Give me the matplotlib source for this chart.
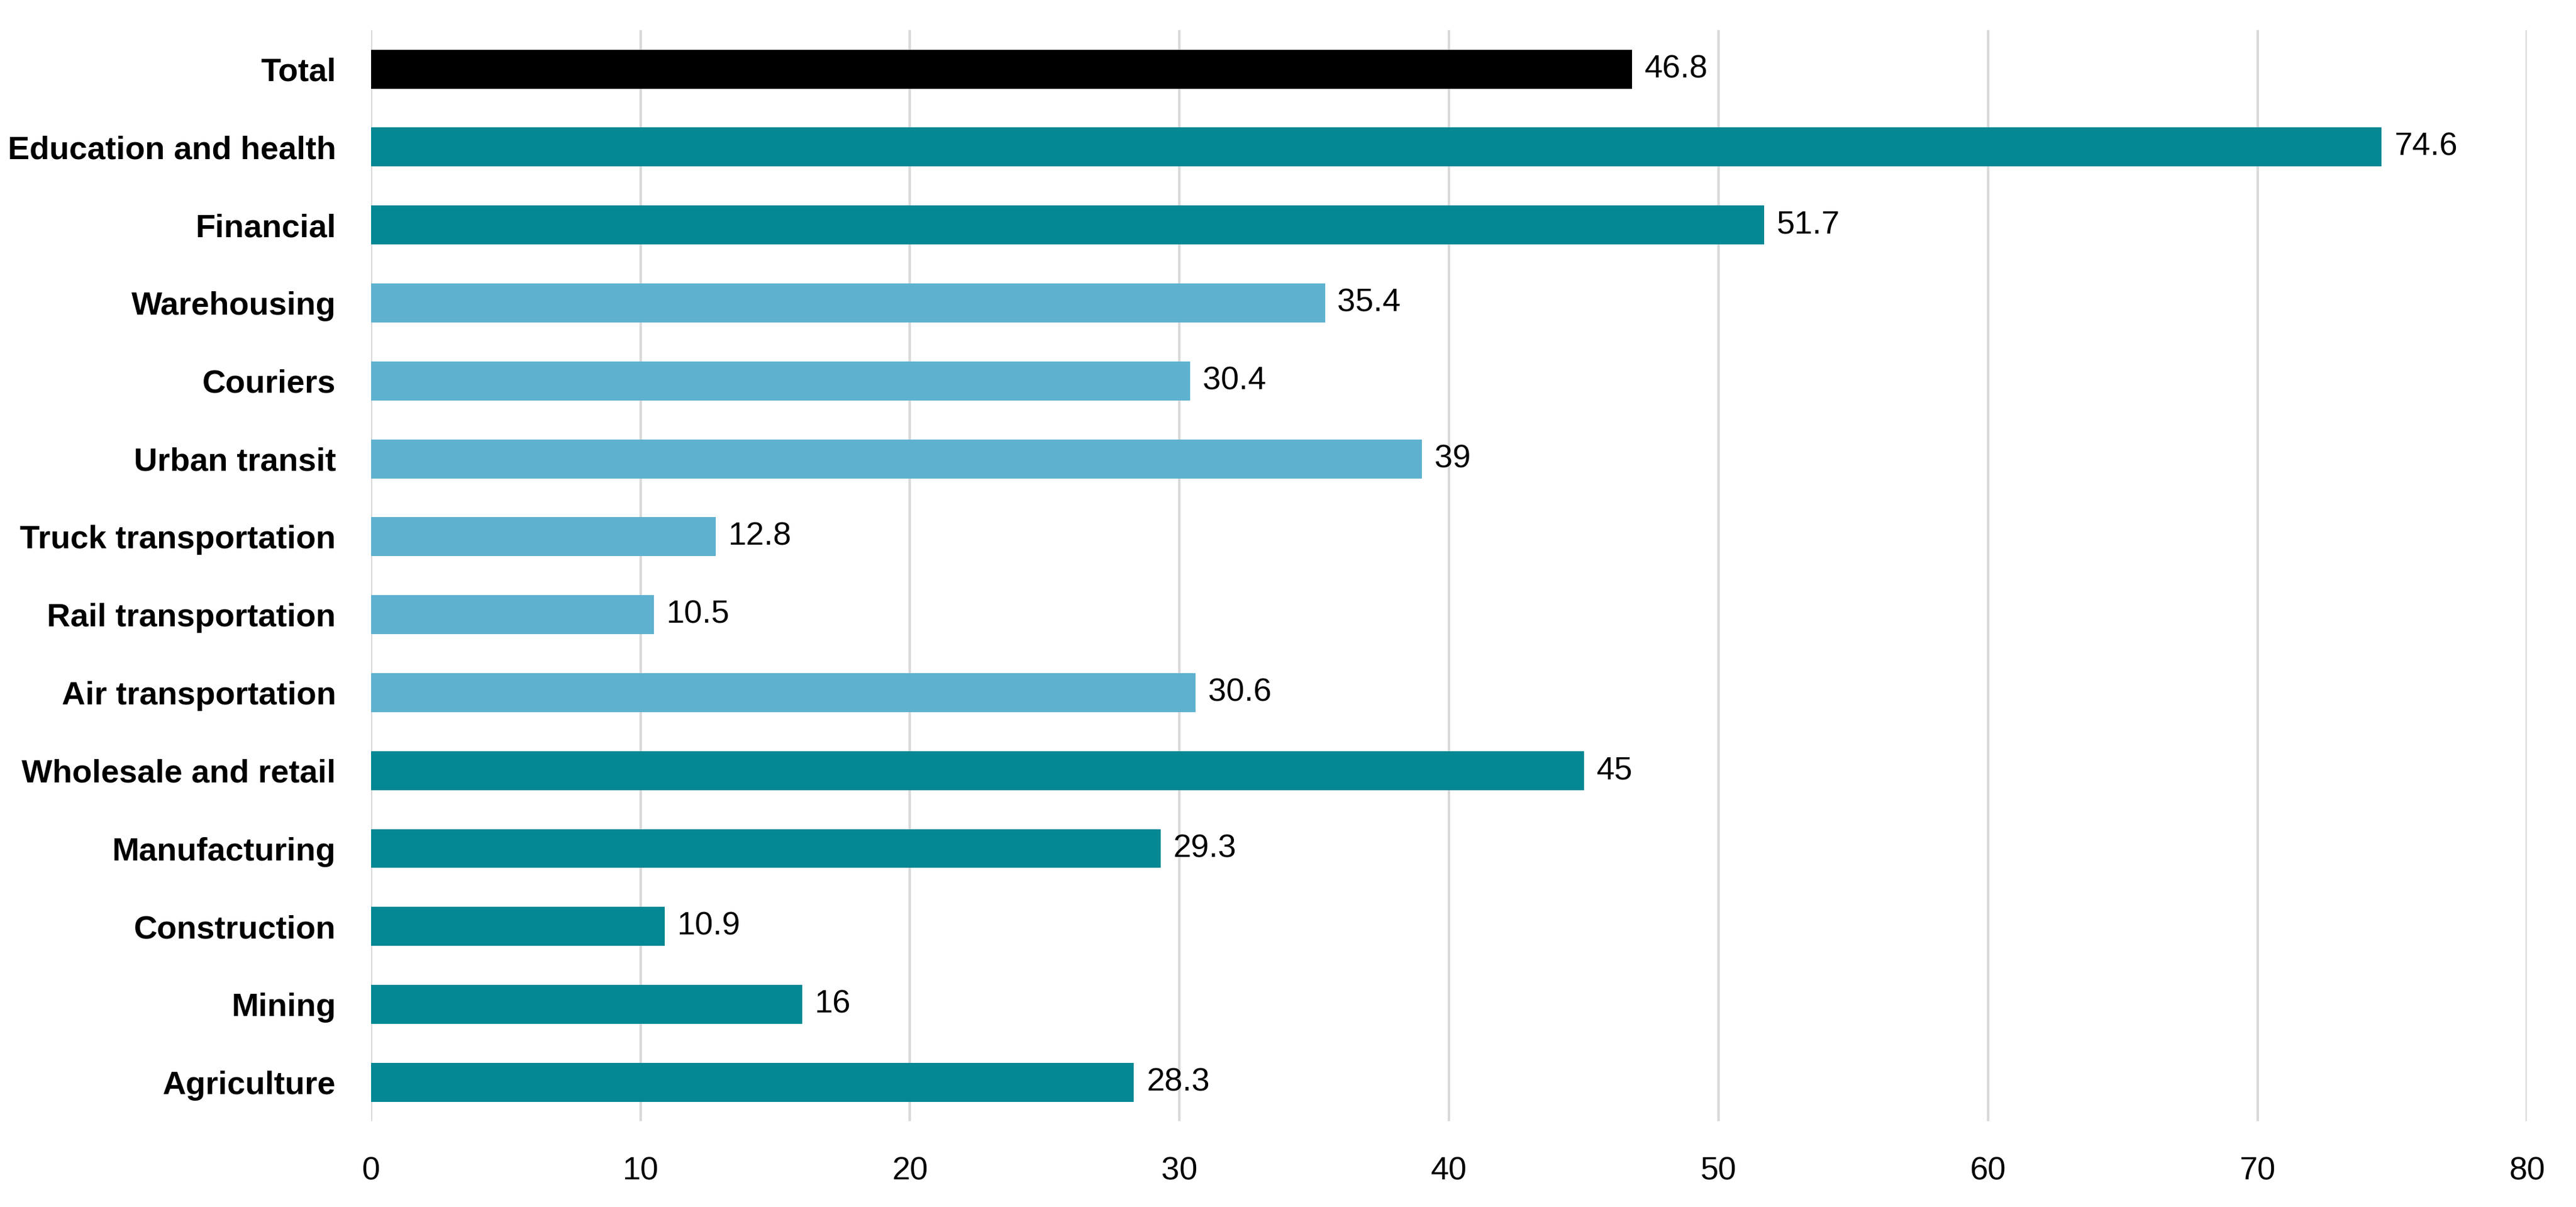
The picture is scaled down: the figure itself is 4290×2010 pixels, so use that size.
#!/usr/bin/env python3

import matplotlib
matplotlib.use("Agg")
import matplotlib.pyplot as plt

# Categories, top to bottom as in the chart
categories = [
    'Total',
    'Education and health',
    'Financial',
    'Warehousing',
    'Couriers',
    'Urban transit',
    'Truck transportation',
    'Rail transportation',
    'Air transportation',
    'Wholesale and retail',
    'Manufacturing',
    'Construction',
    'Mining',
    'Agriculture',
]
values = [46.8, 74.6, 51.7, 35.4, 30.4, 39, 12.8, 10.5, 30.6, 45, 29.3, 10.9, 16, 28.3]
value_labels = ['46.8', '74.6', '51.7', '35.4', '30.4', '39', '12.8', '10.5',
                '30.6', '45', '29.3', '10.9', '16', '28.3']
groups = ['total', 'dark', 'dark', 'light', 'light', 'light', 'light', 'light',
          'light', 'dark', 'dark', 'dark', 'dark', 'dark']
x_ticks = [0, 10, 20, 30, 40, 50, 60, 70, 80]

group_colors = {'total': '#000000', 'dark': '#038894', 'light': '#5EB2CF'}

plt.rcParams['font.family'] = ['Liberation Sans Narrow', 'Liberation Sans', 'DejaVu Sans']

fig = plt.figure(figsize=(14.3, 6.7), dpi=300)
ax = fig.add_axes([0.144, 0.071, 0.837, 0.904])

ypos = list(range(len(categories)))
colors = [group_colors[g] for g in groups]
bars = ax.barh(ypos, values, height=0.5, color=colors, zorder=3)

# value labels at the bar ends
for bar, lab in zip(bars, value_labels):
    ax.annotate(lab, (bar.get_width(), bar.get_y() + bar.get_height() / 2),
                xytext=(5, 0), textcoords='offset points',
                ha='left', va='center', fontsize=13)

ax.set_yticks(ypos)
ax.set_yticklabels(categories, fontsize=13, fontweight='bold')
ax.set_ylim(len(categories) - 0.5, -0.5)

ax.set_xticks(x_ticks)
ax.set_xticklabels([str(t) for t in x_ticks], fontsize=13)
ax.set_xlim(0, 80)

ax.grid(axis='x', color='#D9D9D9', linewidth=1.0, zorder=0)
ax.tick_params(axis='both', length=0)
ax.tick_params(axis='y', pad=14)
ax.tick_params(axis='x', pad=14)
for side in ['top', 'right', 'bottom', 'left']:
    ax.spines[side].set_visible(False)

fig.savefig('out.png', dpi=300)
